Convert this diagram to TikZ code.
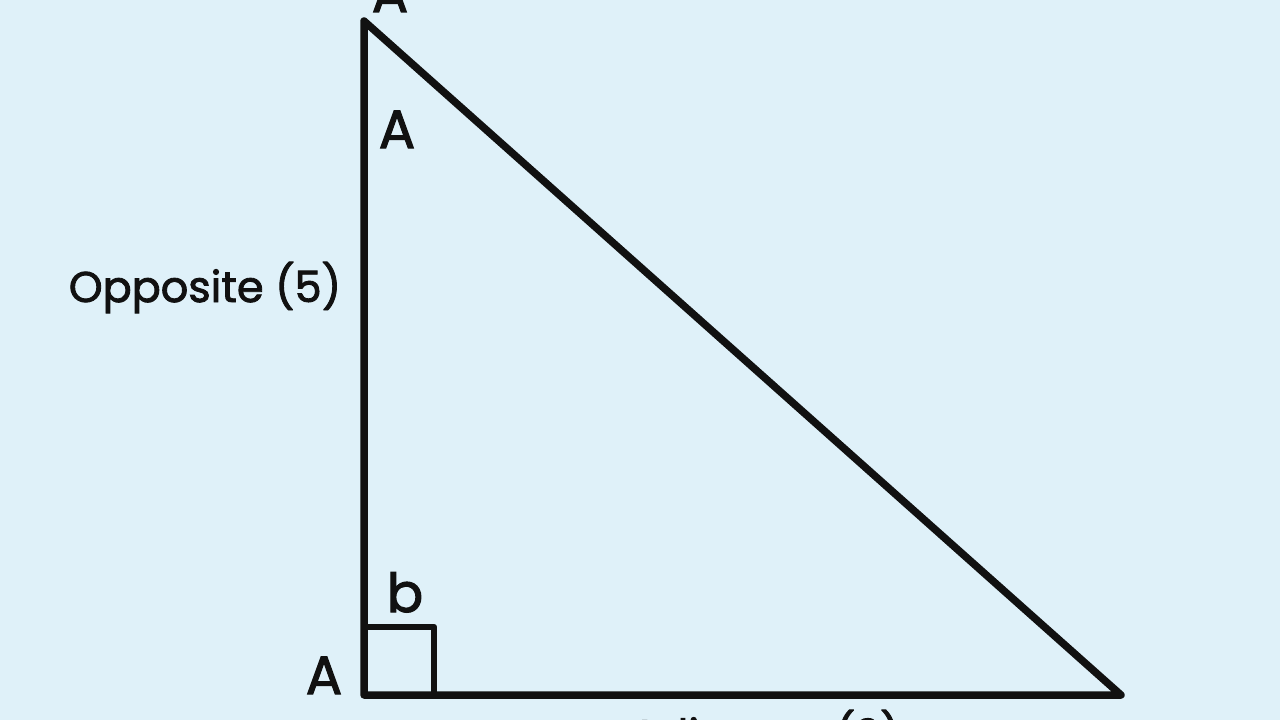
\documentclass[tikz,border=0pt]{standalone}
\usepackage{fontspec}
\setmainfont{Poppins}[BoldFont=Poppins,BoldFeatures={FakeBold=2}]
\definecolor{bgblue}{HTML}{DFF1F9}
\definecolor{ink}{HTML}{111111}
\begin{document}
\begin{tikzpicture}[x=1pt,y=-1pt,
  edge/.style={draw=ink,line width=7.5pt,line join=round},
  biglbl/.style={inner sep=0pt,anchor=base,text=ink,font=\fontsize{54}{60}\selectfont\bfseries},
  sidelbl/.style={inner sep=0pt,anchor=base,text=ink,font=\fontsize{43}{50}\selectfont\bfseries}]
\path[use as bounding box,fill=bgblue] (0,0) rectangle (1280,720);
\coordinate (T) at (364,21);
\coordinate (C) at (364,695);
\coordinate (R) at (1121,695);
\draw[edge] (T) -- (C) -- (R) -- cycle;
\coordinate (S1) at (364,627);
\coordinate (S2) at (434,627);
\coordinate (S3) at (434,695);
\draw[edge,line width=6.5pt] (S1) -- (S2) -- (S3);
\node[biglbl] (topA) at (390,12) {A};
\node[biglbl] (innerA) at (397,148) {A};
\node[sidelbl] (opp) at (205,302) {Opposite (5)};
\node[biglbl] (b) at (405,612) {b};
\node[biglbl] (cornerA) at (324,694) {A};
\node[sidelbl] (adj) at (765,750) {Adjacent (3)};
\end{tikzpicture}
\end{document}
